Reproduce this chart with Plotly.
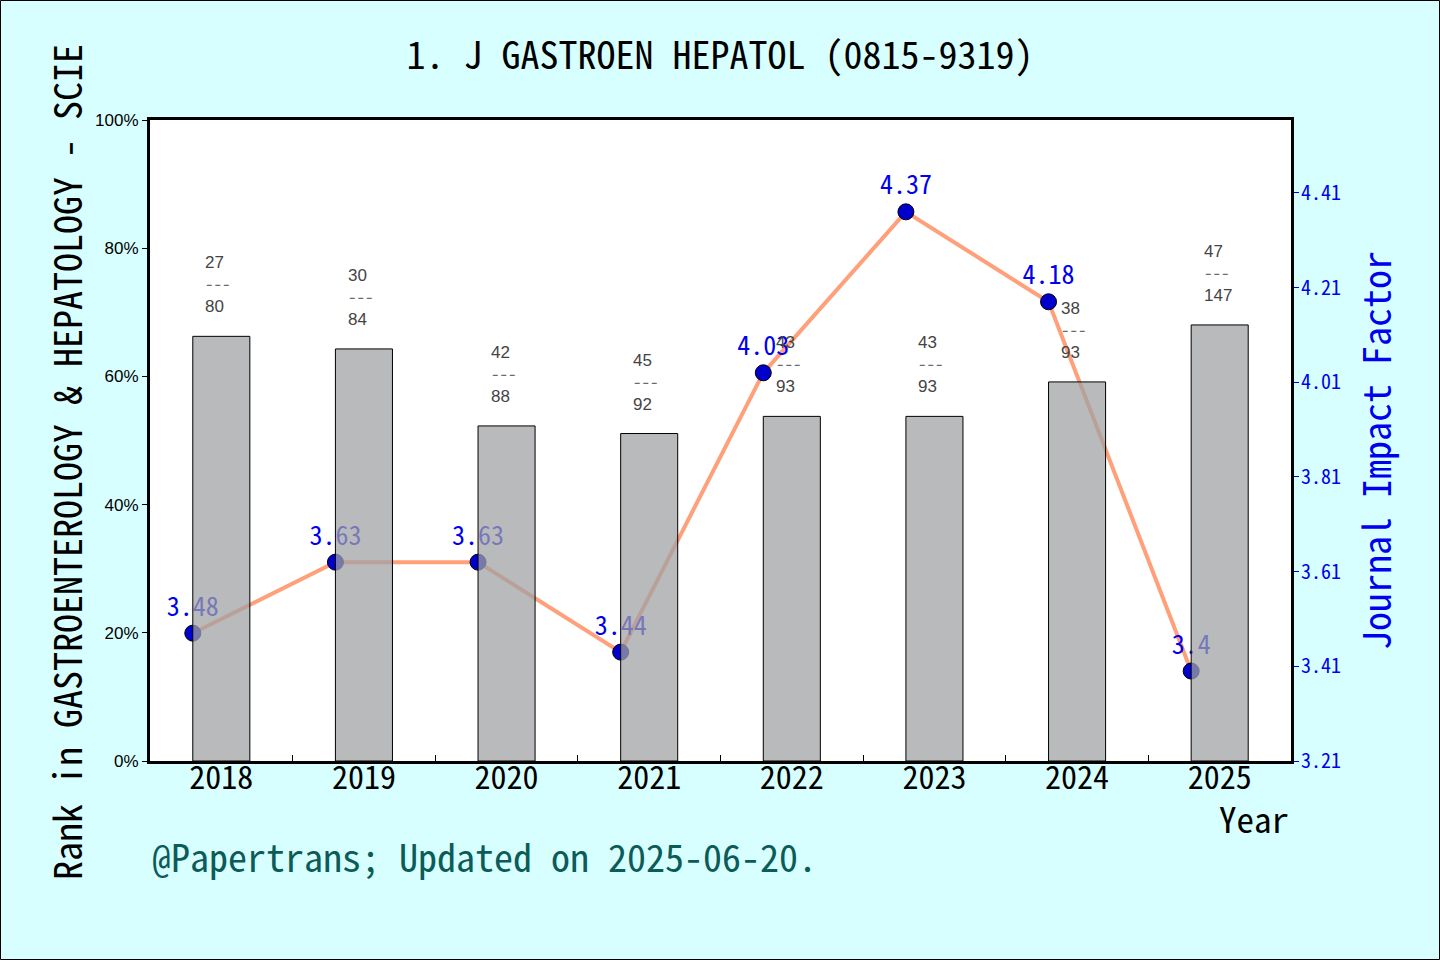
import plotly.graph_objects as go

years = [2018, 2019, 2020, 2021, 2022, 2023, 2024, 2025]
rank = [27, 30, 42, 45, 43, 43, 38, 47]
total = [80, 84, 88, 92, 93, 93, 93, 147]
impact = [3.48, 3.63, 3.63, 3.44, 4.03, 4.37, 4.18, 3.40]
if_ticks = [3.21, 3.41, 3.61, 3.81, 4.01, 4.21, 4.41]
pct_ticks = [0, 20, 40, 60, 80, 100]

pct = [100 * (1 - r / t) for r, t in zip(rank, total)]
line_x = [y - 0.2 for y in years]

MONO = "Noto Sans Mono CJK SC, SimHei, DejaVu Sans Mono, monospace"
SANS = "Liberation Sans, Arial, sans-serif"

fig = go.Figure()

# impact factor line (base axis, drawn underneath the bars)
fig.add_trace(go.Scatter(
    x=line_x, y=impact, yaxis="y",
    mode="lines+markers+text",
    line=dict(color="#ffa07a", width=4),
    marker=dict(color="#0000cc", size=16, line=dict(color="black", width=1)),
    text=[f"{v:g}" for v in impact],
    textposition="top center",
    textfont=dict(family=MONO, size=26, color="#0000ee"),
    cliponaxis=False,
    showlegend=False,
))

# rank bars on the overlaying axis (drawn on top)
fig.add_trace(go.Bar(
    x=years, y=pct, yaxis="y2",
    width=0.4,
    marker=dict(color="rgba(160,162,164,0.74)", line=dict(color="black", width=1)),
    showlegend=False,
))

DASH = ("<span style='font-family:Noto Sans Mono CJK SC, DejaVu Sans Mono, monospace;"
        "color:#6a6a6a'>---</span>")
annotations = []
for yr, p, r, t in zip(years, pct, rank, total):
    annotations.append(dict(
        x=yr, y=p, xref="x", yref="y2",
        text=f"{r}<br>{DASH}<br>{t}",
        showarrow=False, align="left",
        xanchor="left", yanchor="bottom",
        xshift=-18, yshift=18,
        font=dict(family=SANS, size=17, color="#444444"),
    ))

annotations += [
    dict(text="Rank in GASTROENTEROLOGY & HEPATOLOGY - SCIE", textangle=-90,
         xref="paper", yref="paper", x=(66 - 150) / 1141, y=(761 - 462) / 641,
         xanchor="center", yanchor="middle", showarrow=False,
         font=dict(family=MONO, size=38, color="black")),
    dict(text="Journal Impact Factor", textangle=-90,
         xref="paper", yref="paper", x=(1374 - 150) / 1141, y=(761 - 451) / 641,
         xanchor="center", yanchor="middle", showarrow=False,
         font=dict(family=MONO, size=38, color="#0000ee")),
    dict(text="Year", xref="paper", yref="paper",
         x=(1254 - 150) / 1141, y=(761 - 817) / 641,
         xanchor="center", yanchor="middle", showarrow=False,
         font=dict(family=MONO, size=35, color="black")),
    dict(text="@Papertrans; Updated on 2025-06-20.", xref="paper", yref="paper",
         x=0, y=(761 - 855) / 641, xanchor="left", yanchor="middle", showarrow=False,
         font=dict(family=MONO, size=38, color="#0b5c58")),
]

fig.update_layout(
    width=1440, height=960,
    margin=dict(l=150, r=149, t=120, b=199),
    paper_bgcolor="#d8ffff",
    plot_bgcolor="white",
    title=dict(text="1. J GASTROEN HEPATOL (0815-9319)", x=0.5, xref="container",
               y=1 - 56 / 960, yref="container", xanchor="center", yanchor="middle",
               font=dict(family=MONO, size=38, color="black")),
    xaxis=dict(
        range=[2017.5, 2025.5], tickvals=years, ticktext=[str(y) for y in years],
        ticks="", showgrid=False, zeroline=False,
        showline=True, linecolor="black", linewidth=3, mirror=True,
        ticklabelstandoff=-13,
        tickfont=dict(family=MONO, size=32, color="black"),
        minor=dict(tickvals=[y + 0.5 for y in years[:-1]], ticks="inside",
                   ticklen=6, tickcolor="black", tickwidth=1, showgrid=False),
    ),
    yaxis=dict(
        side="right", range=[3.21, 4.564], tickvals=if_ticks,
        ticktext=[f"{v:.2f}" for v in if_ticks],
        ticks="outside", ticklen=5, tickcolor="#0000ee", tickwidth=1,
        showgrid=False, zeroline=False,
        showline=True, linecolor="black", linewidth=3,
        ticklabelstandoff=-2,
        tickfont=dict(family=MONO, size=20, color="#0000ee"),
    ),
    yaxis2=dict(
        side="left", overlaying="y", range=[0, 100], tickvals=pct_ticks,
        ticktext=[f"{v}%" for v in pct_ticks],
        ticks="outside", ticklen=5, tickcolor="black", tickwidth=1,
        showgrid=False, zeroline=False,
        showline=True, linecolor="black", linewidth=3,
        tickfont=dict(family=SANS, size=17, color="black"),
    ),
    annotations=annotations,
    shapes=[dict(type="rect", xref="paper", yref="paper",
                 x0=(0.5 - 150) / 1141, x1=(1439.5 - 150) / 1141,
                 y0=(761 - 959.5) / 641, y1=(761 - 0.5) / 641,
                 line=dict(color="black", width=1), layer="below")],
)

fig.write_html("out.html")
